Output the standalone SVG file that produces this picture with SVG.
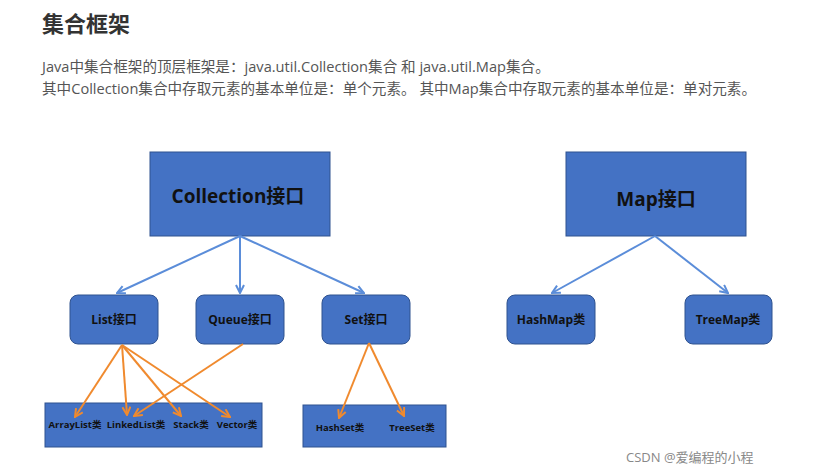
<svg xmlns="http://www.w3.org/2000/svg" width="830" height="475" viewBox="0 0 830 475">
<style>
.t{font-family:"Open Sans","Noto Sans CJK SC",sans-serif}
.box{fill:#4472C4;stroke:#2F528F;stroke-width:1}
.lb{font-family:"Open Sans","Noto Sans CJK SC",sans-serif;font-weight:bold;fill:#111;text-anchor:middle}
.b{stroke:#5B8DD9;stroke-width:2;fill:none;marker-end:url(#ab)}
.o{stroke:#F08A2E;stroke-width:2;fill:none;marker-end:url(#ao)}
</style>
<defs>
<marker id="ab" viewBox="0 0 10 10" refX="9" refY="5" markerWidth="5" markerHeight="5" orient="auto"><path d="M1,1 L9,5 L1,9" fill="none" stroke="#5B8DD9" stroke-width="2"/></marker>
<marker id="ao" viewBox="0 0 10 10" refX="9" refY="5" markerWidth="5" markerHeight="5" orient="auto"><path d="M1,1 L9,5 L1,9" fill="none" stroke="#F08A2E" stroke-width="2"/></marker>
</defs>
<rect width="830" height="475" fill="#fff"/>
<text class="t" x="42" y="32" font-size="22" font-weight="bold" fill="#333">集合框架</text>
<text class="t" x="42" y="72" font-size="14.6" fill="#555">Java中集合框架的顶层框架是：java.util.Collection集合 和 java.util.Map集合。</text>
<text class="t" x="42" y="94" font-size="14.6" fill="#555">其中Collection集合中存取元素的基本单位是：单个元素。 其中Map集合中存取元素的基本单位是：单对元素。</text>
<g id="collection"><rect class="box" x="150" y="152" width="180" height="84"/><text class="lb" x="238" y="203" font-size="19">Collection接口</text></g>
<g id="map"><rect class="box" x="566" y="152" width="180" height="84"/><text class="lb" x="656" y="206" font-size="19">Map接口</text></g>
<g id="list"><rect class="box" x="70" y="295" width="88" height="49" rx="8"/><text class="lb" x="114" y="324" font-size="12">List接口</text></g>
<g id="queue"><rect class="box" x="196" y="295" width="88" height="49" rx="8"/><text class="lb" x="240" y="324" font-size="12">Queue接口</text></g>
<g id="set"><rect class="box" x="322" y="295" width="88" height="49" rx="8"/><text class="lb" x="366" y="324" font-size="12">Set接口</text></g>
<g id="hashmap"><rect class="box" x="507" y="295" width="88" height="49" rx="8"/><text class="lb" x="551" y="324" font-size="12">HashMap类</text></g>
<g id="treemap"><rect class="box" x="685" y="295" width="87" height="49" rx="8"/><text class="lb" x="728" y="324" font-size="12">TreeMap类</text></g>
<g id="listimpl"><rect class="box" x="45" y="403" width="217" height="44"/>
<text class="lb" x="75" y="428" font-size="9.5">ArrayList类</text>
<text class="lb" x="136" y="428" font-size="9.5">LinkedList类</text>
<text class="lb" x="191" y="428" font-size="9.5">Stack类</text>
<text class="lb" x="237" y="428" font-size="9.5">Vector类</text></g>
<g id="setimpl"><rect class="box" x="303" y="405" width="143" height="42"/>
<text class="lb" x="340" y="431" font-size="9.5">HashSet类</text>
<text class="lb" x="412" y="431" font-size="9.5">TreeSet类</text></g>
<g id="connectors">
<path class="b" d="M240,236 L117,293"/>
<path class="b" d="M240,236 L240,293"/>
<path class="b" d="M240,236 L364,293"/>
<path class="b" d="M655,236 L552,293"/>
<path class="b" d="M655,236 L728,293"/>
<path class="o" d="M122,345 L75,417"/>
<path class="o" d="M122,345 L127,415"/>
<path class="o" d="M122,345 L181,416"/>
<path class="o" d="M122,345 L230,417"/>
<path class="o" d="M243,344 L134,416"/>
<path class="o" d="M369,343 L339,418"/>
<path class="o" d="M369,343 L404,416"/>
</g>
<text class="t" x="626" y="462" font-size="13" fill="#888">CSDN @爱编程的小程</text>
</svg>
